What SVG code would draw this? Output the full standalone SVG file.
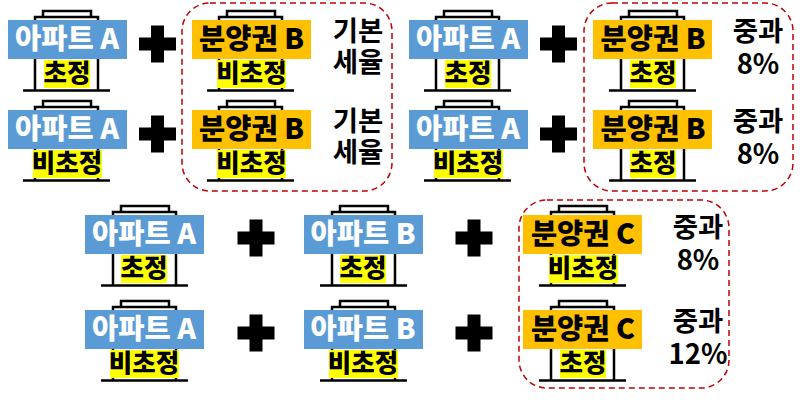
<svg xmlns="http://www.w3.org/2000/svg" width="800" height="400" viewBox="0 0 800 400">
<style>
text{font-family:"Noto Sans CJK KR","Noto Sans",sans-serif;font-weight:900;text-anchor:middle}
.bl{fill:#5b9bd5}.or{fill:#ffc000}.ye{fill:#ff0}
.lb{font-size:28.500px}.w{fill:#fff}.k{fill:#000}
.s{font-size:25.500px;fill:#000}.n{font-size:27.500px;fill:#000;font-weight:700}
.d{fill:none;stroke:#c00000;stroke-width:1.5;stroke-dasharray:6 4}
</style>
<defs>
<g id="bld" fill="none" stroke="#000" stroke-width="2.5">
<path d="M23 90.500H110M35 90V17H98V90M43 17V11H91V17"/>
</g>
<path id="plus" d="M-6.500-18.500H6.500V-6.500H18.500V6.500H6.500V18.500H-6.500V6.500H-18.500V-6.500H-6.500Z" fill="#000"/>
</defs>
<g id="connectors">
<rect class="d" x="182" y="3" width="210" height="188" rx="28"/>
<rect class="d" x="584" y="3" width="209" height="188" rx="28"/>
<rect class="d" x="519" y="200" width="210" height="188" rx="28"/>
<use href="#plus" x="157.500" y="44"/>
<use href="#plus" x="157.500" y="134"/>
<use href="#plus" x="558.500" y="44"/>
<use href="#plus" x="558.500" y="134"/>
<use href="#plus" x="256" y="238"/>
<use href="#plus" x="256" y="333"/>
<use href="#plus" x="474" y="238"/>
<use href="#plus" x="474" y="333"/>
</g>
<g id="n1"><use href="#bld"/><rect class="ye" x="44" y="60" width="46" height="28"/><text class="s" x="67" y="82">초정</text><rect class="bl" x="8" y="20" width="119" height="39"/><text class="lb w" x="67" y="49">아파트 A</text></g>
<g id="n2"><use href="#bld" x="184"/><rect class="ye" x="217" y="60" width="69" height="28"/><text class="s" x="251.500" y="82">비초정</text><rect class="or" x="192" y="20" width="119" height="39"/><text class="lb k" x="251.500" y="49">분양권 B</text></g>
<g id="n3"><use href="#bld" y="90"/><rect class="ye" x="33" y="150" width="69" height="28"/><text class="s" x="67" y="172">비초정</text><rect class="bl" x="8" y="110" width="119" height="39"/><text class="lb w" x="67" y="139">아파트 A</text></g>
<g id="n4"><use href="#bld" x="184" y="90"/><rect class="ye" x="217" y="150" width="69" height="28"/><text class="s" x="251.500" y="172">비초정</text><rect class="or" x="192" y="110" width="119" height="39"/><text class="lb k" x="251.500" y="139">분양권 B</text></g>
<text id="t1" class="n"><tspan x="358" y="41">기본</tspan><tspan x="358" y="72">세율</tspan></text>
<text id="t2" class="n"><tspan x="358" y="131">기본</tspan><tspan x="358" y="162">세율</tspan></text>
<g id="n5"><use href="#bld" x="401"/><rect class="ye" x="445" y="60" width="46" height="28"/><text class="s" x="468" y="82">초정</text><rect class="bl" x="409" y="20" width="119" height="39"/><text class="lb w" x="468" y="49">아파트 A</text></g>
<g id="n6"><use href="#bld" x="586"/><rect class="ye" x="630" y="60" width="46" height="28"/><text class="s" x="653" y="82">초정</text><rect class="or" x="593" y="20" width="119" height="39"/><text class="lb k" x="653" y="49">분양권 B</text></g>
<g id="n7"><use href="#bld" x="401" y="90"/><rect class="ye" x="434" y="150" width="69" height="28"/><text class="s" x="468" y="172">비초정</text><rect class="bl" x="409" y="110" width="119" height="39"/><text class="lb w" x="468" y="139">아파트 A</text></g>
<g id="n8"><use href="#bld" x="586" y="90"/><rect class="ye" x="630" y="150" width="46" height="28"/><text class="s" x="653" y="172">초정</text><rect class="or" x="593" y="110" width="119" height="39"/><text class="lb k" x="653" y="139">분양권 B</text></g>
<text id="t3" class="n"><tspan x="758" y="41">중과</tspan><tspan x="758" y="74">8%</tspan></text>
<text id="t4" class="n"><tspan x="758" y="131">중과</tspan><tspan x="758" y="164">8%</tspan></text>
<g id="n9"><use href="#bld" x="78" y="195"/><rect class="ye" x="121" y="255" width="46" height="28"/><text class="s" x="144" y="277">초정</text><rect class="bl" x="85" y="215" width="119" height="39"/><text class="lb w" x="144" y="244">아파트 A</text></g>
<g id="n10"><use href="#bld" x="297" y="195"/><rect class="ye" x="340" y="255" width="46" height="28"/><text class="s" x="363" y="277">초정</text><rect class="bl" x="304" y="215" width="119" height="39"/><text class="lb w" x="363" y="244">아파트 B</text></g>
<g id="n11"><use href="#bld" x="516" y="195"/><rect class="ye" x="549" y="255" width="69" height="28"/><text class="s" x="583" y="277">비초정</text><rect class="or" x="523" y="215" width="119" height="39"/><text class="lb k" x="583" y="244">분양권 C</text></g>
<g id="n12"><use href="#bld" x="78" y="290"/><rect class="ye" x="110" y="350" width="69" height="28"/><text class="s" x="144" y="372">비초정</text><rect class="bl" x="85" y="310" width="119" height="39"/><text class="lb w" x="144" y="339">아파트 A</text></g>
<g id="n13"><use href="#bld" x="297" y="290"/><rect class="ye" x="329" y="350" width="69" height="28"/><text class="s" x="363" y="372">비초정</text><rect class="bl" x="304" y="310" width="119" height="39"/><text class="lb w" x="363" y="339">아파트 B</text></g>
<g id="n14"><use href="#bld" x="516" y="290"/><rect class="ye" x="560" y="350" width="46" height="28"/><text class="s" x="583" y="372">초정</text><rect class="or" x="523" y="310" width="119" height="39"/><text class="lb k" x="583" y="339">분양권 C</text></g>
<text id="t5" class="n"><tspan x="698" y="237">중과</tspan><tspan x="698" y="270">8%</tspan></text>
<text id="t6" class="n"><tspan x="698" y="331">중과</tspan><tspan x="698" y="364">12%</tspan></text>
</svg>
